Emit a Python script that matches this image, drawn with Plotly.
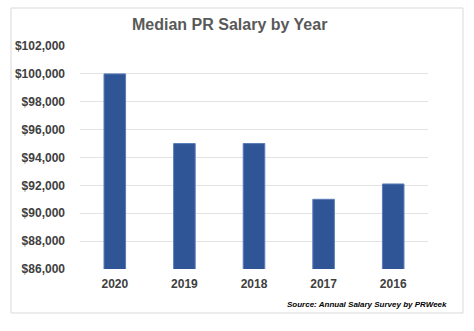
import plotly.graph_objects as go

years = ["2020", "2019", "2018", "2017", "2016"]
salaries = [100000, 95000, 95000, 91000, 92100]
tick_vals = [86000, 88000, 90000, 92000, 94000, 96000, 98000, 100000, 102000]
tick_text = ["$86,000", "$88,000", "$90,000", "$92,000", "$94,000", "$96,000", "$98,000", "$100,000", "$102,000"]

W, H = 474, 331
L, R, T, B = 80, 46, 46, 62
pw, ph = W - L - R, H - T - B

def px(x):
    return (x - L) / pw

def py(y):
    return (H - B - y) / ph

fig = go.Figure(go.Bar(
    x=years, y=salaries,
    marker=dict(color="#2F5597", line=dict(color="#5B7DB8", width=1)),
    width=0.31,
))

fig.update_layout(
    width=W, height=H,
    margin=dict(l=L, r=R, t=T, b=B),
    paper_bgcolor="white", plot_bgcolor="white",
    font=dict(family="Liberation Sans, Arial, sans-serif", color="#404040"),
    showlegend=False,
    xaxis=dict(showgrid=False, showline=False, ticks="", tickfont=dict(size=12, color="#404040", weight="bold"),
               ticklabelstandoff=6),
    yaxis=dict(range=[86000, 102000], tickvals=tick_vals, ticktext=tick_text,
               showgrid=True, gridcolor="#E3E3E3", gridwidth=1, zeroline=False, showline=False,
               tickfont=dict(size=12, color="#404040", weight="bold"), ticklabelstandoff=14),
    shapes=[dict(type="rect", xref="paper", yref="paper",
                 x0=px(11), x1=px(463), y0=py(313), y1=py(8),
                 line=dict(color="#D9D9D9", width=1), fillcolor="rgba(0,0,0,0)", layer="below")],
    annotations=[
        dict(text="<b>Median PR Salary by Year</b>", xref="paper", yref="paper",
             x=px(229), y=py(25), xanchor="center", yanchor="middle", showarrow=False,
             font=dict(size=16, color="#595959")),
        dict(text="<b><i>Source: Annual Salary Survey by PRWeek</i></b>", xref="paper", yref="paper",
             x=px(449), y=py(304.5), xanchor="right", yanchor="middle", showarrow=False,
             font=dict(size=8, color="#000000")),
    ],
)

fig.write_html("out.html")
